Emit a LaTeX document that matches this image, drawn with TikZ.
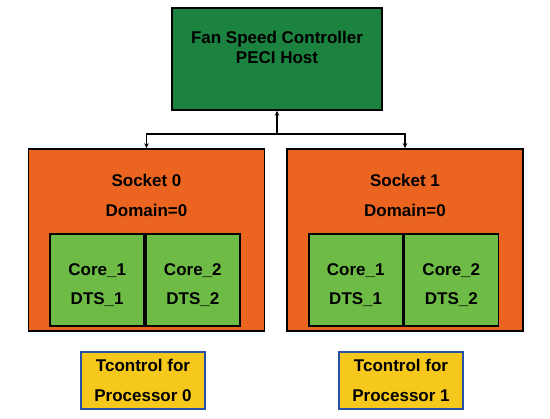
\documentclass[tikz,border=0pt]{standalone}
\usepackage{fontspec}
\setmainfont{Liberation Sans}
\usetikzlibrary{arrows.meta}
\definecolor{hostgreen}{RGB}{27,130,63}
\definecolor{sockorange}{RGB}{236,101,32}
\definecolor{coregreen}{RGB}{110,188,70}
\definecolor{tcyellow}{RGB}{246,200,27}
\definecolor{tcblue}{RGB}{40,80,165}
\tikzset{
  box/.style={draw=black, line width=1.6pt, inner sep=0pt, align=center},
  hostbox/.style={box, fill=hostgreen, minimum width=210pt, minimum height=102pt},
  sockbox/.style={box, fill=sockorange, minimum width=236pt, minimum height=182pt},
  corebox/.style={box, fill=coregreen, minimum width=94pt, minimum height=92pt},
  tcbox/.style={draw=tcblue, line width=1.3pt, fill=tcyellow, inner sep=0pt,
    align=center, minimum width=124pt, minimum height=57pt},
  txt/.style={align=center, inner sep=0pt},
  link/.style={line width=1.2pt, -{Stealth[length=5pt,width=4.5pt]}}
}
\begin{document}
\begin{tikzpicture}[x=1pt, y=-1pt, font=\fontsize{17}{29.5}\selectfont\bfseries]
  \useasboundingbox (0,0) rectangle (550,419);
  % host
  \node[hostbox] (fsc) at (277,59) {};
  \node[txt, font=\fontsize{17}{20}\selectfont\bfseries] (fsctxt) at (277,47)
    {Fan Speed Controller\\PECI Host};
  % sockets
  \foreach \i/\x in {0/146.5, 1/405} {
    \node[sockbox] (s\i) at (\x,240) {};
    \node[txt] (s\i txt) at (\x,195.5) {Socket \i\\Domain=0};
    \node[corebox, anchor=north east] (c\i a) at (\x-1.5,233) {};
    \node[corebox, anchor=north west] (c\i b) at (\x-1.5,233) {};
    \node[txt] (c\i atxt) at ([yshift=-5.5pt]c\i a.center) {Core\_1\\DTS\_1};
    \node[txt] (c\i btxt) at ([yshift=-5.5pt]c\i b.center) {Core\_2\\DTS\_2};
  }
  % tcontrol
  \node[tcbox] (t0) at (143,380.5) {Tcontrol for\\Processor 0};
  \node[tcbox] (t1) at (401,380.5) {Tcontrol for\\Processor 1};
  % bus
  \coordinate (bus) at (277,134);
  \draw[link] (bus) -- (fsc.south);
  \draw[link] (bus) -| (s0.north);
  \draw[link] (bus) -| (s1.north);
\end{tikzpicture}
\end{document}
